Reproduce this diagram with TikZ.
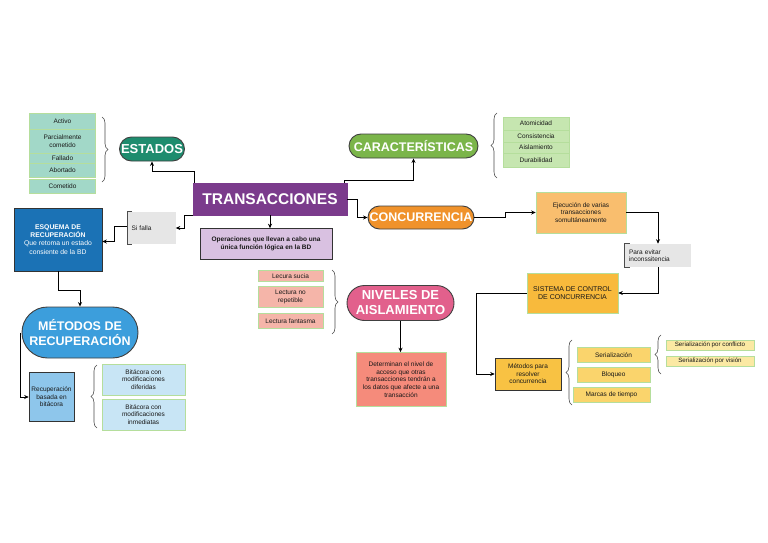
\documentclass[tikz,border=0pt]{standalone}
\usepackage{fontspec}
\setmainfont{Liberation Sans}
\usetikzlibrary{arrows.meta,decorations.pathreplacing,shapes.misc,calc}
\definecolor{tealL}{HTML}{A2D8C8}
\definecolor{greenB}{HTML}{B5DE9C}
\definecolor{estC}{HTML}{1E8C6E}
\definecolor{transC}{HTML}{7B3B8C}
\definecolor{carC}{HTML}{7BB54A}
\definecolor{carL}{HTML}{C6E6B0}
\definecolor{concC}{HTML}{F0922B}
\definecolor{ejecC}{HTML}{F9BE6E}
\definecolor{grayL}{HTML}{E6E6E6}
\definecolor{sistC}{HTML}{F8BA3C}
\definecolor{metresC}{HTML}{F8C243}
\definecolor{serC}{HTML}{FAD46C}
\definecolor{serL}{HTML}{FBE9A3}
\definecolor{operC}{HTML}{D9C1E1}
\definecolor{esqC}{HTML}{1B72B5}
\definecolor{metrecC}{HTML}{3C9EDC}
\definecolor{recC}{HTML}{8EC6EB}
\definecolor{bitC}{HTML}{C8E5F5}
\definecolor{nivC}{HTML}{E2608C}
\definecolor{lecC}{HTML}{F5B5A9}
\definecolor{detC}{HTML}{F58B7B}
\begin{document}
\begin{tikzpicture}[x=1pt,y=-1pt,
  item/.style={rectangle, inner sep=0pt, align=center, font=\fontsize{6.5}{7.6}\selectfont, text=black!90, line width=0.6pt},
  sz/.style 2 args={minimum width=#1pt, minimum height=#2pt},
  pill/.style={rounded rectangle, inner sep=0pt, align=center, draw=black!75, line width=0.9pt, text=white, font=\bfseries\fontsize{12.5}{14}\selectfont},
  arr/.style={draw=black, line width=0.8pt, -{Stealth[length=4.5pt,width=4pt]}},
  brc/.style={decorate, decoration={brace, amplitude=6pt}, draw=black!70, line width=0.6pt},
  bkt/.style={draw=black!70, line width=0.8pt}
]
\fill[white] (0,0) rectangle (768,543);
\useasboundingbox (0,0) rectangle (768,543);

% central
\node[item, sz={154}{32}, fill=transC, draw=transC, text=white, font=\bfseries\fontsize{15.5}{17}\selectfont] (trans) at (270,199) {TRANSACCIONES};

% ESTADOS
\node[pill, sz={65}{24}, fill=estC, font=\bfseries\fontsize{13}{14}\selectfont] (estados) at (152,149) {ESTADOS};
\node[item, sz={66}{16}, fill=tealL, draw=greenB] (act) at (62.5,121) {Activo};
\node[item, sz={66}{24}, fill=tealL, draw=greenB] (parc) at (62.5,141) {Parcialmente\\cometido};
\node[item, sz={66}{10}, fill=tealL, draw=greenB] (fall) at (62.5,158) {Fallado};
\node[item, sz={66}{14}, fill=tealL, draw=greenB] (abort) at (62.5,170) {Abortado};
\node[item, sz={66}{14}, fill=tealL, draw=greenB] (comet) at (62.5,186) {Cometido};
\draw[brc] (102,117) -- (102,182);

% CARACTERISTICAS
\node[pill, sz={129}{24}, fill=carC] (carac) at (413.5,146) {CARACTERÍSTICAS};
\node[item, sz={66}{13}, fill=carL, draw=greenB] (atom) at (536,123.5) {Atomicidad};
\node[item, sz={66}{12}, fill=carL, draw=greenB] (cons) at (536,136) {Consistencia};
\node[item, sz={66}{11}, fill=carL, draw=greenB] (aisl) at (536,147.5) {Aislamiento};
\node[item, sz={66}{14}, fill=carL, draw=greenB] (dura) at (536,160) {Durabilidad};
\draw[brc] (497,178) -- (497,113);

% CONCURRENCIA
\node[pill, sz={106}{23}, fill=concC] (conc) at (421,217.5) {CONCURRENCIA};
\node[item, sz={90}{41}, fill=ejecC, draw=greenB] (ejec) at (581,212.5) {Ejecución de varias\\transacciones\\somultáneamente};
\node[item, sz={66}{23}, fill=grayL, align=left, text width=58pt] (para) at (658,255.5) {Para evitar\\inconssitencia};
\draw[bkt] ([xshift=5pt]para.north west) -| (para.south west) -- ++(5,0);
\node[item, sz={91}{40}, fill=sistC, draw=greenB, font=\fontsize{7}{8.5}\selectfont] (sist) at (572.5,293) {SISTEMA DE CONTROL\\DE CONCURRENCIA};
\node[item, sz={66}{32}, fill=metresC, draw=black!80] (metres) at (528,374) {Métodos para\\resolver\\concurrencia};
\draw[brc] (572,405) -- (572,340);
\node[item, sz={73}{15}, fill=serC, draw=greenB] (ser) at (613.5,355) {Serialización};
\node[item, sz={73}{15}, fill=serC, draw=greenB] (bloq) at (613.5,375) {Bloqueo};
\node[item, sz={77}{15}, fill=serC, draw=greenB] (marc) at (611.5,395) {Marcas de tiempo};
\draw[brc] (661,374) -- (661,335);
\node[item, sz={88}{10}, fill=serL, draw=greenB, font=\fontsize{6.2}{7}\selectfont] (serconf) at (710,345) {Serialización por conflicto};
\node[item, sz={88}{10}, fill=serL, draw=greenB, font=\fontsize{6.2}{7}\selectfont] (servis) at (710,361) {Serialización por visión};

% Operaciones
\node[item, sz={132}{31}, fill=operC, draw=black!80, font=\bfseries\fontsize{6.5}{8}\selectfont] (oper) at (266,244) {Operaciones que llevan a cabo una\\única función lógica en la BD};

% Si falla / recuperacion
\node[item, sz={48}{32}, fill=grayL, align=left, text width=40pt] (sifalla) at (151.5,228) {Si falla};
\draw[bkt] ([xshift=5pt]sifalla.north west) -| (sifalla.south west) -- ++(5,0);
\node[item, sz={88}{63}, fill=esqC, draw=black!80, text=white, font=\fontsize{6.8}{8.2}\selectfont] (esq) at (58,239.5) {\textbf{ESQUEMA DE}\\\textbf{RECUPERACIÓN}\\Que retoma un estado\\consiente de la BD};
\node[pill, sz={116}{51}, fill=metrecC, font=\bfseries\fontsize{12.5}{15.5}\selectfont] (metrec) at (80,332.5) {MÉTODOS DE\\RECUPERACIÓN};
\node[item, sz={45}{49}, fill=recC, draw=black!80] (recup) at (51.5,397) {Recuperación\\basada en\\bitácora};
\draw[brc] (97,428) -- (97,365);
\node[item, sz={83}{31}, fill=bitC, draw=greenB] (bit1) at (143.5,379.5) {Bitácora con\\modificaciones\\diferidas};
\node[item, sz={83}{31}, fill=bitC, draw=greenB] (bit2) at (143.5,414.5) {Bitácora con\\modificaciones\\inmediatas};

% NIVELES
\node[pill, sz={107}{35}, fill=nivC, font=\bfseries\fontsize{13}{15}\selectfont] (niv) at (400.5,303) {NIVELES DE\\AISLAMIENTO};
\node[item, sz={65}{11}, fill=lecC, draw=greenB] (lec1) at (290.5,276) {Lecura sucia};
\node[item, sz={65}{21}, fill=lecC, draw=greenB] (lec2) at (290.5,297) {Lectura no\\repetible};
\node[item, sz={65}{15}, fill=lecC, draw=greenB] (lec3) at (290.5,321) {Lectura fantasma};
\draw[brc] (332,270) -- (332,334);
\node[item, sz={90}{54}, fill=detC, draw=greenB] (det) at (401,379.5) {Determinan el nivel de\\acceso que otras\\transacciones tendrán a\\los datos que afecte a una\\transacción};

% connectors
\draw[arr] ([xshift=2pt]trans.north west) -- ++(0,-11) -| (estados.south);
\draw[arr] ([xshift=-3pt]trans.north east) -- ++(0,-2) -| (carac.south);
\draw[arr] (trans.east) -- ++(10,0) |- (conc.west);
\draw[arr] (conc.east) -- ++(31,0) |- (ejec.west);
\draw[arr] (ejec.east) -| (para.north);
\draw[arr] (para.south) |- (sist.east);
\draw[arr] (sist.west) -- ++(-50,0) |- (metres.west);
\draw[arr] (trans.south) -- (trans.south |- oper.north);
\draw[arr] (trans.south west) -- ++(-8,0) |- (sifalla.east);
\draw[arr] ([yshift=2pt]sifalla.west) -- ++(-13,0) |- ([yshift=-2pt]esq.east);
\draw[arr] (esq.south) -- ++(0,19) -| (metrec.north);
\draw[arr] ([xshift=-1pt]metrec.west) |- (recup.west);
\draw[arr] (niv.south) -- (niv.south |- det.north);
\end{tikzpicture}
\end{document}
